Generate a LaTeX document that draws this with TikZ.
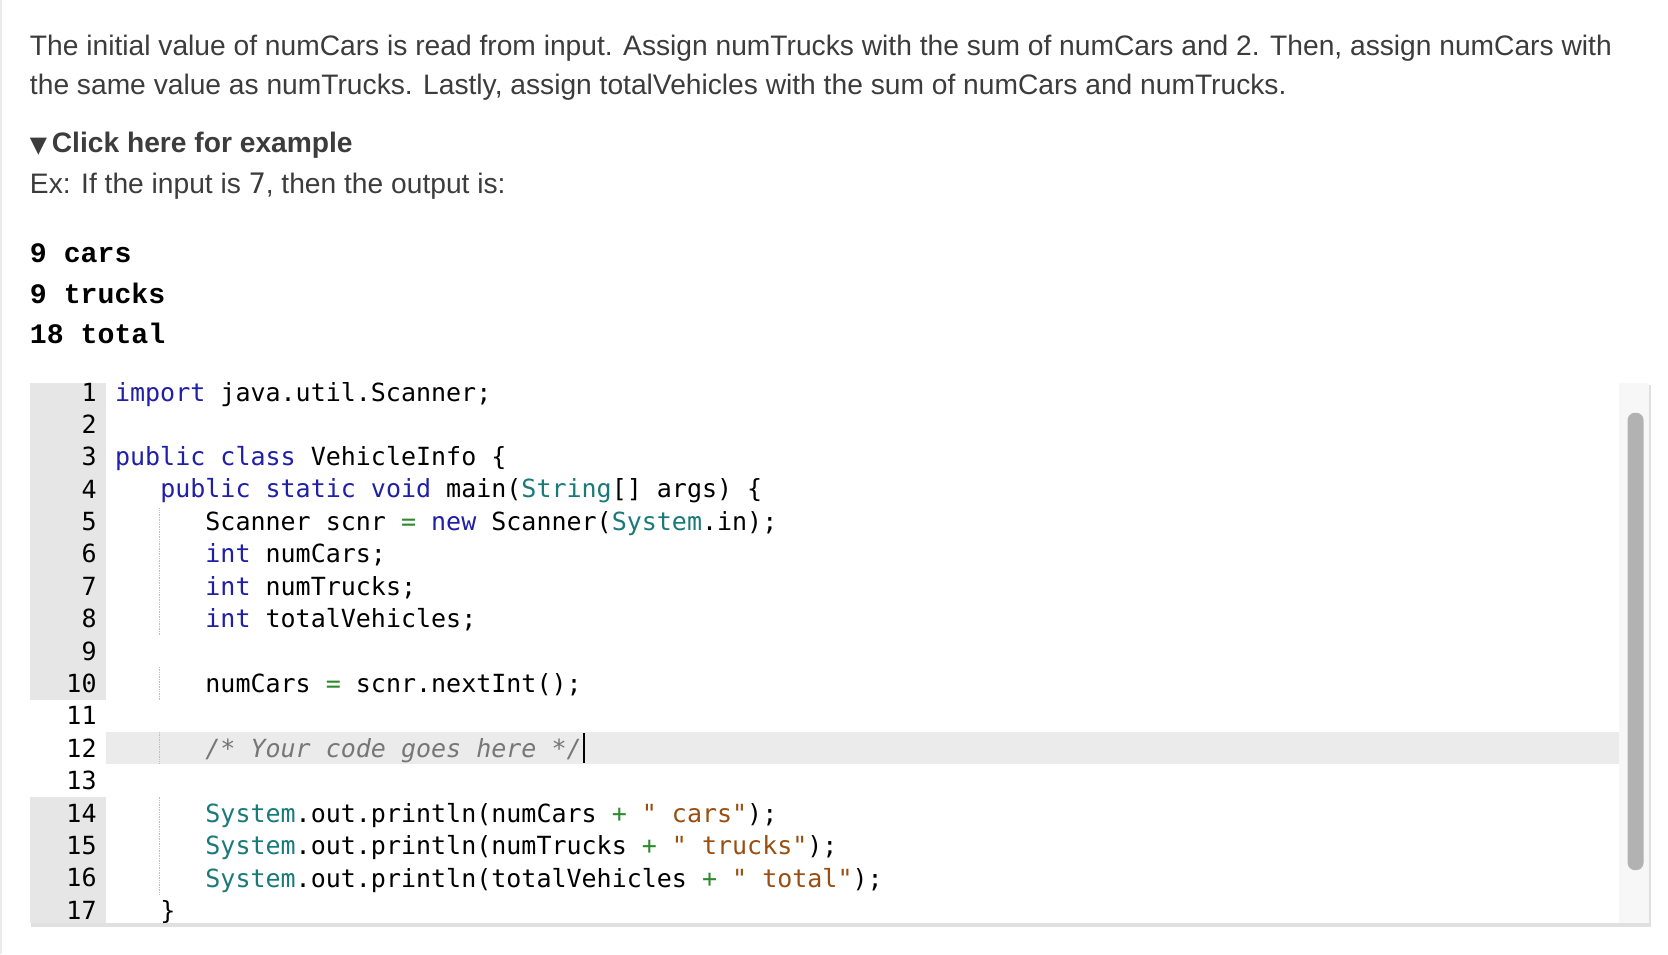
\documentclass[tikz,border=0pt]{standalone}
\usepackage{fontspec}
\setmainfont{Liberation Sans}
\setmonofont{DejaVu Sans Mono}
\newfontfamily\symfont{DejaVu Sans}
\newfontfamily\outfont{Liberation Mono}
\definecolor{txt}{HTML}{3C3C3C}
\definecolor{kw}{HTML}{1F1FA8}
\definecolor{ty}{HTML}{1A7A7A}
\definecolor{st}{HTML}{9A4F12}
\definecolor{op}{HTML}{2C8A2C}
\definecolor{cm}{HTML}{777777}
\definecolor{gut}{HTML}{E6E6E6}
\newcommand{\K}[1]{\textcolor{kw}{#1}}
\newcommand{\T}[1]{\textcolor{ty}{#1}}
\newcommand{\Sx}[1]{\textcolor{st}{#1}}
\newcommand{\Op}[1]{\textcolor{op}{#1}}
\begin{document}
\begin{tikzpicture}[x=1pt,y=-1pt,
  para/.style={anchor=base west,inner sep=0,font=\fontsize{26.5}{30}\selectfont,text=txt},
  code/.style={anchor=base west,inner sep=0,font=\fontsize{23.5}{28}\ttfamily,text=black},
  lnum/.style={anchor=base east,inner sep=0,font=\fontsize{23.5}{28}\ttfamily,text=black},
  outtext/.style={anchor=base west,inner sep=0,font=\fontsize{26.5}{30}\outfont\bfseries,text=black},
  guide/.style={draw=black!25,densely dotted,line width=0.6pt}]
\useasboundingbox (0,0) rectangle (1568,897);
\fill[white] (0,0) rectangle (1568,897);
\draw[black!8,line width=2pt] (1,0) -- (1,897);
\node[para] (p1) at (28,52) {The initial value of numCars is read from input. Assign numTrucks with the sum of numCars and 2. Then, assign numCars with};
\node[para] (p2) at (28,89) {the same value as numTrucks. Lastly, assign totalVehicles with the sum of numCars and numTrucks.};
\node[para,font=\fontsize{26.5}{30}\selectfont\bfseries] (ex) at (28,143) {{\symfont\fontsize{21}{24}\selectfont▼}\,Click here for example};
\node[para] (p3) at (28,182) {Ex: If the input is {\ttfamily 7}, then the output is:};
\node[outtext] (o1) at (28,247) {9 cars};
\node[outtext] (o2) at (28,285) {9 trucks};
\node[outtext] (o3) at (28,323) {18 total};
% editor
\fill[black!12] (29,362) rectangle (1552,871);
\fill[white] (28,360) rectangle (1550,868);
\fill[gut] (28,360) rectangle (100,658);
\fill[gut] (28,749) rectangle (100,868);
\fill[black!8] (100,688) rectangle (1522,718);
\fill[black!3] (1522,360) rectangle (1550,868);
\fill[black!30,rounded corners=7pt] (1530,388) rectangle (1545,818);
\begin{scope}
\clip (28,360) rectangle (1550,868);
\foreach \n in {1,...,17}{
  \node[lnum] (n\n) at (91,{377+30.44*(\n-1)}) {\n};
}
\def\cx#1{108+14.15*#1}
\node[code] (c1) at ({\cx0},377) {\K{import} java.util.Scanner;};
\node[code] (c3) at ({\cx0},438) {\K{public} \K{class} VehicleInfo \{};
\node[code] (c4) at ({\cx3},468) {\K{public} \K{static} \K{void} main(\T{String}[] args) \{};
\node[code] (c5) at ({\cx6},499) {Scanner scnr \Op{=} \K{new} Scanner(\T{System}.in);};
\node[code] (c6) at ({\cx6},529) {\K{int} numCars;};
\node[code] (c7) at ({\cx6},560) {\K{int} numTrucks;};
\node[code] (c8) at ({\cx6},590) {\K{int} totalVehicles;};
\node[code] (c10) at ({\cx6},651) {numCars \Op{=} scnr.nextInt();};
\node[code] (c12) at ({\cx6},712) {\textcolor{cm}{\itshape /* Your code goes here */}};
\node[code] (c14) at ({\cx6},773) {\T{System}.out.println(numCars \Op{+} \Sx{" cars"});};
\node[code] (c15) at ({\cx6},803) {\T{System}.out.println(numTrucks \Op{+} \Sx{" trucks"});};
\node[code] (c16) at ({\cx6},834) {\T{System}.out.println(totalVehicles \Op{+} \Sx{" total"});};
\node[code] (c17) at ({\cx3},864) {\}};
\end{scope}
\draw[black,line width=1.5pt] (549,689) -- (549,717);
\draw[guide] (150,478) -- (150,597);
\draw[guide] (150,627) -- (150,658);
\draw[guide] (150,688) -- (150,718);
\draw[guide] (150,749) -- (150,841);
\end{tikzpicture}
\end{document}
